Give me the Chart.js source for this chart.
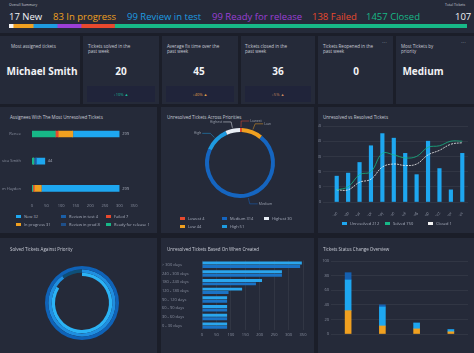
<!DOCTYPE html>
<html>
<head>
<meta charset="utf-8">
<script src="https://cdn.jsdelivr.net/npm/chart.js@4"></script>
<style>
  body { margin: 0; width: 474px; height: 353px; background: #1b1e29; overflow: hidden; font-family: "Open Sans", sans-serif; position: relative; }
  .box { position: absolute; background: #252a39; }
  .t { position: absolute; color: #c9ccd6; font-size: 4.5px; white-space: nowrap; line-height: 1.15; }
  .big { position: absolute; color: #f1f2f5; font-weight: 700; font-size: 10px; transform: translateX(-50%); white-space: nowrap; }
  .foot { position: absolute; background: #20243a; }
  .foot span { position: absolute; left: 50%; top: 50%; transform: translate(-50%, -50%); font-size: 4px; }
  .stat { position: absolute; top: 10px; font-size: 9.5px; white-space: nowrap; }
  .cw { position: absolute; }
  .lg { position: absolute; font-size: 4px; color: #aab0bf; white-space: nowrap; }
  .lg i { display: inline-block; width: 5px; height: 3px; margin-right: 3px; vertical-align: middle; }
  .dots { position: absolute; color: #9aa0ae; font-size: 6px; }
</style>
</head>
<body>
<div class="box" style="left:0;top:0;width:474px;height:33px"></div>
<div class="t" style="left:9px;top:3px;font-size:3.5px">Overall Summary</div>
<div class="t" style="left:445px;top:3px;font-size:3.5px">Total Tickets</div>
<div id="stats"></div>
<div class="stat" style="left:455px;color:#f1f2f5">107</div>
<div class="cw" style="left:9px;top:24px;width:458px;height:4px"><canvas id="summaryBar"></canvas></div>

<!-- KPI cards -->
<div class="box" style="left:0;top:36px;width:80px;height:68px"></div>
<div class="box" style="left:83px;top:36px;width:76px;height:68px"></div>
<div class="box" style="left:162px;top:36px;width:76px;height:68px"></div>
<div class="box" style="left:241px;top:36px;width:74px;height:68px"></div>
<div class="box" style="left:318px;top:36px;width:75px;height:68px"></div>
<div class="box" style="left:396px;top:36px;width:78px;height:68px"></div>
<div class="t" style="left:11px;top:44px">Most assigned tickets</div>
<div class="t" style="left:88px;top:44px">Tickets solved in the<br>past week</div>
<div class="t" style="left:167px;top:44px">Average fix time over the<br>past week</div>
<div class="t" style="left:245px;top:44px">Tickets closed in the<br>past week</div>
<div class="t" style="left:323px;top:44px">Tickets Reopened in the<br>past week</div>
<div class="t" style="left:401px;top:44px">Most Tickets by<br>priority</div>
<div class="dots" style="left:382px;top:38px">···</div>
<div class="dots" style="left:461px;top:38px">···</div>
<div class="big" style="left:42px;top:64px">Michael Smith</div>
<div class="big" style="left:121px;top:64px">20</div>
<div class="big" style="left:199px;top:64px">45</div>
<div class="big" style="left:278px;top:64px">36</div>
<div class="big" style="left:356px;top:64px">0</div>
<div class="big" style="left:423px;top:64px">Medium</div>
<div class="foot" style="left:87px;top:86px;width:68px;height:16px"><span style="color:#1abc9c">+10% ▲</span></div>
<div class="foot" style="left:166px;top:86px;width:68px;height:16px"><span style="color:#e0a04a">+40% ▲</span></div>
<div class="foot" style="left:245px;top:86px;width:66px;height:16px"><span style="color:#c98a60">+5% ▲</span></div>

<!-- row 3 -->
<div class="box" style="left:0;top:107px;width:157px;height:126px"></div>
<div class="box" style="left:161px;top:107px;width:153px;height:126px"></div>
<div class="box" style="left:318px;top:107px;width:156px;height:126px"></div>
<div class="t" style="left:10px;top:115px">Assignees With The Most Unresolved Tickets</div>
<div class="t" style="left:167px;top:115px">Unresolved Tickets Across Priorities</div>
<div class="t" style="left:323px;top:115px">Unresolved vs Resolved Tickets</div>
<div class="cw" style="left:2px;top:115px;width:154px;height:96px"><canvas id="assignees"></canvas></div>
<div class="cw" style="left:190px;top:113px;width:100px;height:100px"><canvas id="priorities"></canvas></div>
<div class="cw" style="left:318px;top:120px;width:156px;height:96px"><canvas id="resolved"></canvas></div>
<div id="lg1"></div><div id="lg2"></div><div id="lg3"></div>

<!-- row 4 -->
<div class="box" style="left:0;top:238px;width:157px;height:115px"></div>
<div class="box" style="left:161px;top:238px;width:153px;height:115px"></div>
<div class="box" style="left:318px;top:238px;width:156px;height:115px"></div>
<div class="t" style="left:10px;top:247px">Solved Tickets Against Priority</div>
<div class="t" style="left:167px;top:247px">Unresolved Tickets Based On When Created</div>
<div class="t" style="left:323px;top:247px">Tickets Status Change Overview</div>
<div class="cw" style="left:32px;top:253px;width:100px;height:100px"><canvas id="solvedRings"></canvas></div>
<div class="cw" style="left:162px;top:255px;width:152px;height:83px"><canvas id="created"></canvas></div>
<div class="cw" style="left:318px;top:254px;width:156px;height:88px"><canvas id="statusChange"></canvas></div>

<script>
// summary
const statusNames = ["New", "In progress", "Review in test", "Ready for release", "Failed", "Closed"];
const statusCounts = [17, 83, 99, 99, 138, 1457];
const statusColors = ["#f4f4f4", "#f0a020", "#1e9be0", "#9b3fd6", "#e8492e", "#17b887"];
const statusLeft = [9, 53, 127, 212, 312, 366];

// assignees
const assigneeNames = ["Renee", "Jessica Smith", "Tom Hayden"];
const asgReady = [80, 6, 3];
const asgFailed = [10, 0, 5];
const asgProgress = [50, 0, 24];
const asgReviewTest = [0, 8, 0];
const asgReviewProd = [0, 0, 0];
const asgNew = [159, 30, 267];
const asgTicks = [0, 50, 100, 150, 200, 250, 300, 350];

// priorities
const priorityNames = ["Lowest", "Low", "Medium", "High", "Highest"];
const priorityCounts = [4, 44, 314, 51, 30];
const priorityColors = ["#e8492e", "#f0a020", "#1565c0", "#1e9be0", "#e8eef5"];

// unresolved vs resolved
const months = ["Jan", "Feb", "Mar", "Apr", "May", "Jun", "Jul", "Aug", "Sep", "Oct", "Nov", "Dec"];
const unresolvedMonthly = [17, 19, 26, 37, 45, 42, 32, 18, 40, 22, 8, 32];
const solvedMonthly = [8, 10, 18, 20, 32, 31, 29, 30, 36, 37, 40, 40];
const closedMonthly = [8, 8, 13, 15, 23, 25, 24, 25, 31, 34, 38, 39];

// solved against priority (ring share of full circle)
const ringOuter = [100, 0];
const ringMiddle = [90, 10];
const ringInner = [84, 16];

// created
const ageBuckets = ["> 300 days", "240 - 300 days", "180 - 240 days", "120 - 180 days", "90 - 120 days", "60 - 90 days", "30 - 60 days", "0 - 30 days"];
const createdA = [346, 277, 208, 139, 87, 87, 87, 87];
const createdB = [340, 277, 187, 92, 87, 87, 87, 87];

// status change
const changeStates = ["New", "Open", "Ready for testing", "Closed"];
const changeProgress = [32, 11, 7, 3];
const changeReview = [42, 26, 8, 3];
const changeDone = [10, 3, 0, 0];

Chart.defaults.font.family = "Open Sans";
Chart.defaults.font.size = 4;
Chart.defaults.color = "#8a90a0";
Chart.defaults.animation = false;
Chart.defaults.responsive = true;
Chart.defaults.maintainAspectRatio = false;
Chart.defaults.devicePixelRatio = 1;
Chart.defaults.plugins.legend.display = false;
Chart.defaults.plugins.tooltip.enabled = false;

const stats = document.getElementById("stats");
statusNames.forEach((n, i) => {
  const d = document.createElement("div");
  d.className = "stat";
  d.style.left = statusLeft[i] + "px";
  d.style.color = i === 0 ? "#f1f2f5" : statusColors[i];
  d.textContent = statusCounts[i] + " " + n;
  stats.appendChild(d);
});

function legend(id, items, left, top, colW, perRow) {
  const box = document.getElementById(id);
  items.forEach((it, i) => {
    const d = document.createElement("div");
    d.className = "lg";
    d.style.left = left + (i % perRow) * colW + "px";
    d.style.top = top + Math.floor(i / perRow) * 8 + "px";
    d.innerHTML = `<i style="background:${it[1]}"></i>${it[0]}`;
    box.appendChild(d);
  });
}

const grid = "rgba(255,255,255,0.06)";

// top bar
new Chart(document.getElementById("summaryBar"), {
  type: "bar",
  data: {
    labels: [""],
    datasets: statusCounts.map((v, i) => ({ data: [v], backgroundColor: statusColors[i], barPercentage: 1, categoryPercentage: 1 })),
  },
  options: {
    indexAxis: "y",
    layout: { padding: 0 },
    scales: {
      x: { stacked: true, display: false, max: statusCounts.reduce((a, b) => a + b, 0) },
      y: { stacked: true, display: false },
    },
  },
});

// totals at bar end
const totalsPlugin = {
  id: "totals",
  afterDatasetsDraw(chart) {
    const ctx = chart.ctx;
    const ds = chart.data.datasets;
    const meta = chart.getDatasetMeta(ds.length - 1);
    ctx.save();
    ctx.font = "4px Open Sans";
    ctx.fillStyle = "#aab0bf";
    ctx.textBaseline = "middle";
    meta.data.forEach((bar, i) => {
      const total = ds.reduce((s, d) => s + d.data[i], 0);
      ctx.fillText(total, bar.x + 3, bar.y);
    });
    ctx.restore();
  },
};

new Chart(document.getElementById("assignees"), {
  type: "bar",
  data: {
    labels: assigneeNames,
    datasets: [
      { label: "Ready for release", data: asgReady, backgroundColor: "#17b887" },
      { label: "Failed", data: asgFailed, backgroundColor: "#e8492e" },
      { label: "In progress", data: asgProgress, backgroundColor: "#f0a020" },
      { label: "Review in test", data: asgReviewTest, backgroundColor: "#1a5fa8" },
      { label: "Review in prod", data: asgReviewProd, backgroundColor: "#1e4f8a" },
      { label: "New", data: asgNew, backgroundColor: "#1ea7f0" },
    ],
  },
  options: {
    indexAxis: "y",
    barThickness: 6,
    layout: { padding: { right: 22, top: 0 } },
    scales: {
      x: { stacked: true, min: 0, max: 350, afterBuildTicks: (s) => { s.ticks = asgTicks.map((v) => ({ value: v })); },
        afterFit: (s) => { s.height = 9; },
        grid: { display: false, drawTicks: false }, border: { display: false }, ticks: { padding: 1 } },
      y: { stacked: true, afterFit: (s) => { s.width = 30; }, grid: { display: false }, border: { display: false } },
    },
  },
  plugins: [totalsPlugin],
});
legend("lg1", [
  ["New 32", "#1ea7f0"], ["Review in test 4", "#1a5fa8"], ["Failed 7", "#e8492e"],
  ["In progress 31", "#f0a020"], ["Review in prod 8", "#1e4f8a"], ["Ready for release 1", "#17b887"],
], 16, 214, 45, 3);

// callout labels on the doughnut
const calloutPlugin = {
  id: "callout",
  afterDatasetsDraw(chart) {
    const ctx = chart.ctx;
    const meta = chart.getDatasetMeta(0);
    ctx.save();
    ctx.font = "3.5px Open Sans";
    ctx.textBaseline = "middle";
    meta.data.forEach((arc, i) => {
      const a = (arc.startAngle + arc.endAngle) / 2;
      const r = arc.outerRadius;
      const x1 = arc.x + Math.cos(a) * (r + 1), y1 = arc.y + Math.sin(a) * (r + 1);
      const x2 = arc.x + Math.cos(a) * (r + 7), y2 = arc.y + Math.sin(a) * (r + 7);
      const right = Math.cos(a) >= 0;
      const x3 = x2 + (right ? 8 : -8);
      ctx.strokeStyle = priorityColors[i];
      ctx.lineWidth = 0.5;
      ctx.beginPath();
      ctx.moveTo(x1, y1);
      ctx.lineTo(x2, y2);
      ctx.lineTo(x3, y2);
      ctx.stroke();
      ctx.fillStyle = "#9aa0ae";
      ctx.textAlign = right ? "left" : "right";
      ctx.fillText(chart.data.labels[i], x3 + (right ? 1 : -1), y2);
    });
    ctx.restore();
  },
};

new Chart(document.getElementById("priorities"), {
  type: "doughnut",
  data: {
    labels: priorityNames,
    datasets: [{ data: priorityCounts, backgroundColor: priorityColors, borderWidth: 0 }],
  },
  options: { radius: 35, cutout: "88.6%" },
  plugins: [calloutPlugin],
});
legend("lg2", [
  ["Lowest 4", "#e8492e"], ["Medium 314", "#1565c0"], ["Highest 30", "#e8eef5"],
  ["Low 44", "#f0a020"], ["High 51", "#1e9be0"],
], 180, 216, 42, 3);

// unresolved vs resolved
new Chart(document.getElementById("resolved"), {
  data: {
    labels: months,
    datasets: [
      { type: "line", label: "Solved", data: solvedMonthly, borderColor: "#17b887", borderWidth: 0.8, pointRadius: 0, tension: 0.4 },
      { type: "line", label: "Closed", data: closedMonthly, borderColor: "#f4f4f4", borderWidth: 0.8, borderDash: [2, 1], pointRadius: 0, tension: 0.4 },
      { type: "bar", label: "Unresolved", data: unresolvedMonthly, backgroundColor: "#1ea7f0", barThickness: 3.5 },
    ],
  },
  options: {
    layout: { padding: { right: 6, top: 6 } },
    scales: {
      y: { min: 0, max: 50, ticks: { stepSize: 10, padding: 2 }, afterFit: (s) => { s.width = 13; },
        grid: { color: grid }, border: { display: false } },
      x: { ticks: { maxRotation: 60, minRotation: 60, padding: 1 }, afterFit: (s) => { s.height = 14; },
        grid: { display: false }, border: { display: false } },
    },
  },
});
legend("lg3", [["Unresolved 212", "#1ea7f0"], ["Solved 750", "#17b887"], ["Closed 1", "#f4f4f4"]], 342, 221, 43, 3);

// solved rings
new Chart(document.getElementById("solvedRings"), {
  type: "doughnut",
  data: {
    labels: ["Solved", "Rest"],
    datasets: [
      { data: ringOuter, backgroundColor: ["#0f63b8", "transparent"], borderWidth: 0 },
      { data: ringMiddle, backgroundColor: ["#1f8fe0", "#0e4f78"], borderWidth: 0 },
      { data: ringInner, backgroundColor: ["#2bb3f5", "transparent"], borderWidth: 0 },
    ],
  },
  options: { radius: 37, cutout: "73%" },
});

// created
new Chart(document.getElementById("created"), {
  type: "bar",
  data: {
    labels: ageBuckets,
    datasets: [
      { data: createdA, backgroundColor: "#2aa6ee" },
      { data: createdB, backgroundColor: "#1a73c6" },
    ],
  },
  options: {
    indexAxis: "y",
    categoryPercentage: 0.8,
    barPercentage: 0.85,
    layout: { padding: { right: 11, top: 5 } },
    scales: {
      x: { min: 0, max: 350, ticks: { stepSize: 50, padding: 2 }, afterFit: (s) => { s.height = 8; },
        grid: { color: grid, drawTicks: false }, border: { display: false } },
      y: { afterFit: (s) => { s.width = 40; }, grid: { display: false }, border: { display: false },
        ticks: { crossAlign: "far" } },
    },
  },
});

// status change
new Chart(document.getElementById("statusChange"), {
  type: "bar",
  data: {
    labels: changeStates,
    datasets: [
      { data: changeProgress, backgroundColor: "#f0a020" },
      { data: changeReview, backgroundColor: "#1ea7f0" },
      { data: changeDone, backgroundColor: "#1560b0" },
    ],
  },
  options: {
    barThickness: 6,
    layout: { padding: { right: 6, top: 7 } },
    scales: {
      y: { stacked: true, min: 0, max: 100, ticks: { stepSize: 20, padding: 2 }, afterFit: (s) => { s.width = 13; },
        grid: { color: grid, drawTicks: false }, border: { display: false } },
      x: { stacked: true, afterFit: (s) => { s.height = 8; }, grid: { display: false }, border: { display: false } },
    },
  },
});
</script>
</body>
</html>
